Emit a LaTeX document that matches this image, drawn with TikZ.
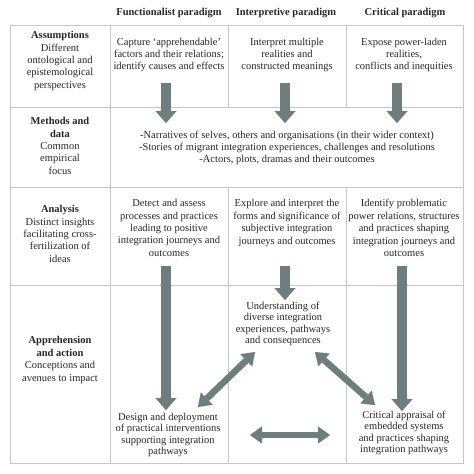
\documentclass[tikz,border=0pt]{standalone}
\usepackage{fontspec}
\setmainfont{Liberation Serif}
\usetikzlibrary{arrows.meta}
\definecolor{arrowgray}{RGB}{108,126,126}

\begin{document}
\begin{tikzpicture}[x=1pt, y=-1pt,
                    font=\fontsize{10.5}{12.4}\selectfont,
                    ]
    \tikzstyle{txt}=[align=center, text=black!85, inner sep=1pt]
    \tikzstyle{tight}=[txt, font=\fontsize{10.5}{11.3}\selectfont]
    \tikzstyle{colhead}=[txt, font=\fontsize{10.5}{12.4}\selectfont\bfseries]
    \tikzstyle{grid}=[draw=gray!45, line width=0.8pt]
    \tikzstyle{bigarrow}=[draw=arrowgray, line width=10.5pt,
        -{Triangle[length=12pt, width=21pt, line width=0.01pt]}]
    \tikzstyle{twoway}=[draw=arrowgray, line width=6.5pt,
        {Triangle[length=12pt, width=17pt, line width=0.01pt]}-{Triangle[length=12pt, width=17pt, line width=0.01pt]}]

    \useasboundingbox (0,0) rectangle (474,474);

    % table
    \draw[grid] (10,25) rectangle (463,463);
    \draw[grid] (110,25) -- (110,463);
    \draw[grid] (228,25) -- (228,107) (346,25) -- (346,107);
    \draw[grid] (228,187) -- (228,463) (346,187) -- (346,463);
    \draw[grid] (10,107) -- (463,107) (10,187) -- (463,187) (10,285) -- (463,285);

    \node[colhead] (funct) at (169,13) {Functionalist paradigm};
    \node[colhead] (interp) at (286,13) {Interpretive paradigm};
    \node[colhead] (crit) at (405,13) {Critical paradigm};

    \node[txt] (assum) at (60,61) {\textbf{Assumptions}\\Different\\ontological and\\epistemological\\perspectives};
    \node[txt] (meth) at (60,146) {\textbf{Methods and}\\\textbf{data}\\Common\\empirical\\focus};
    \node[txt] (anal) at (60,234) {\textbf{Analysis}\\Distinct insights\\facilitating cross-\\fertilization of\\ideas};
    \node[txt] (appr) at (60,360) {\textbf{Apprehension}\\\textbf{and action}\\Conceptions and\\avenues to impact};

    \node[txt] (capture) at (169,55) {Capture `apprehendable'\\factors and their relations;\\identify causes and effects};
    \node[txt] (multiple) at (287,55) {Interpret multiple\\realities and\\constructed meanings};
    \node[txt] (expose) at (404,55) {Expose power-laden\\realities,\\conflicts and inequities};

    \node[txt] (narr) at (287,148) {-Narratives of selves, others and organisations (in their wider context)\\-Stories of migrant integration experiences, challenges and resolutions\\-Actors, plots, dramas and their outcomes};

    \node[txt] (detect) at (169,228) {Detect and assess\\processes and practices\\leading to positive\\integration journeys and\\outcomes};
    \node[txt] (explore) at (287,223) {Explore and interpret the\\forms and significance of\\subjective integration\\journeys and outcomes};
    \node[txt] (identify) at (404,228) {Identify problematic\\power relations, structures\\and practices shaping\\integration journeys and\\outcomes};

    \node[tight] (underst) at (283,324) {Understanding of\\diverse integration\\experiences, pathways\\and consequences};
    \node[tight] (design) at (168,435) {Design and deployment\\of practical interventions\\supporting integration\\pathways};
    \node[tight] (apprais) at (404,433) {Critical appraisal of\\embedded systems\\and practices shaping\\integration pathways};

    % arrows
    \draw[bigarrow] ([xshift=-3pt]capture.south |- 0,83) -- ([xshift=-3pt]capture.south |- 0,123);
    \draw[bigarrow] ([xshift=-2pt]multiple.south |- 0,83) -- ([xshift=-2pt]multiple.south |- 0,123);
    \draw[bigarrow] ([xshift=-7pt]expose.south |- 0,83) -- ([xshift=-7pt]expose.south |- 0,123);

    \draw[bigarrow] ([xshift=-3pt]detect.south |- 0,266) -- ([xshift=-2pt]design.north |- 0,410);
    \draw[bigarrow] ([xshift=-2pt]explore.south |- 0,266) -- ([xshift=2pt]underst.north |- 0,300);
    \draw[bigarrow] ([xshift=-2pt]identify.south |- 0,266) -- ([xshift=-2pt]apprais.north |- 0,411);

    \draw[twoway] ([xshift=30pt]design.north |- 0,407) -- ([xshift=-28pt]underst.south |- 0,352);
    \draw[twoway] ([xshift=32pt]underst.south |- 0,352) -- ([xshift=-29pt]apprais.north |- 0,405);
    \draw[twoway] ([xshift=82pt]design.center) -- ([xshift=-74pt]apprais.center |- design.center);
\end{tikzpicture}
\end{document}
